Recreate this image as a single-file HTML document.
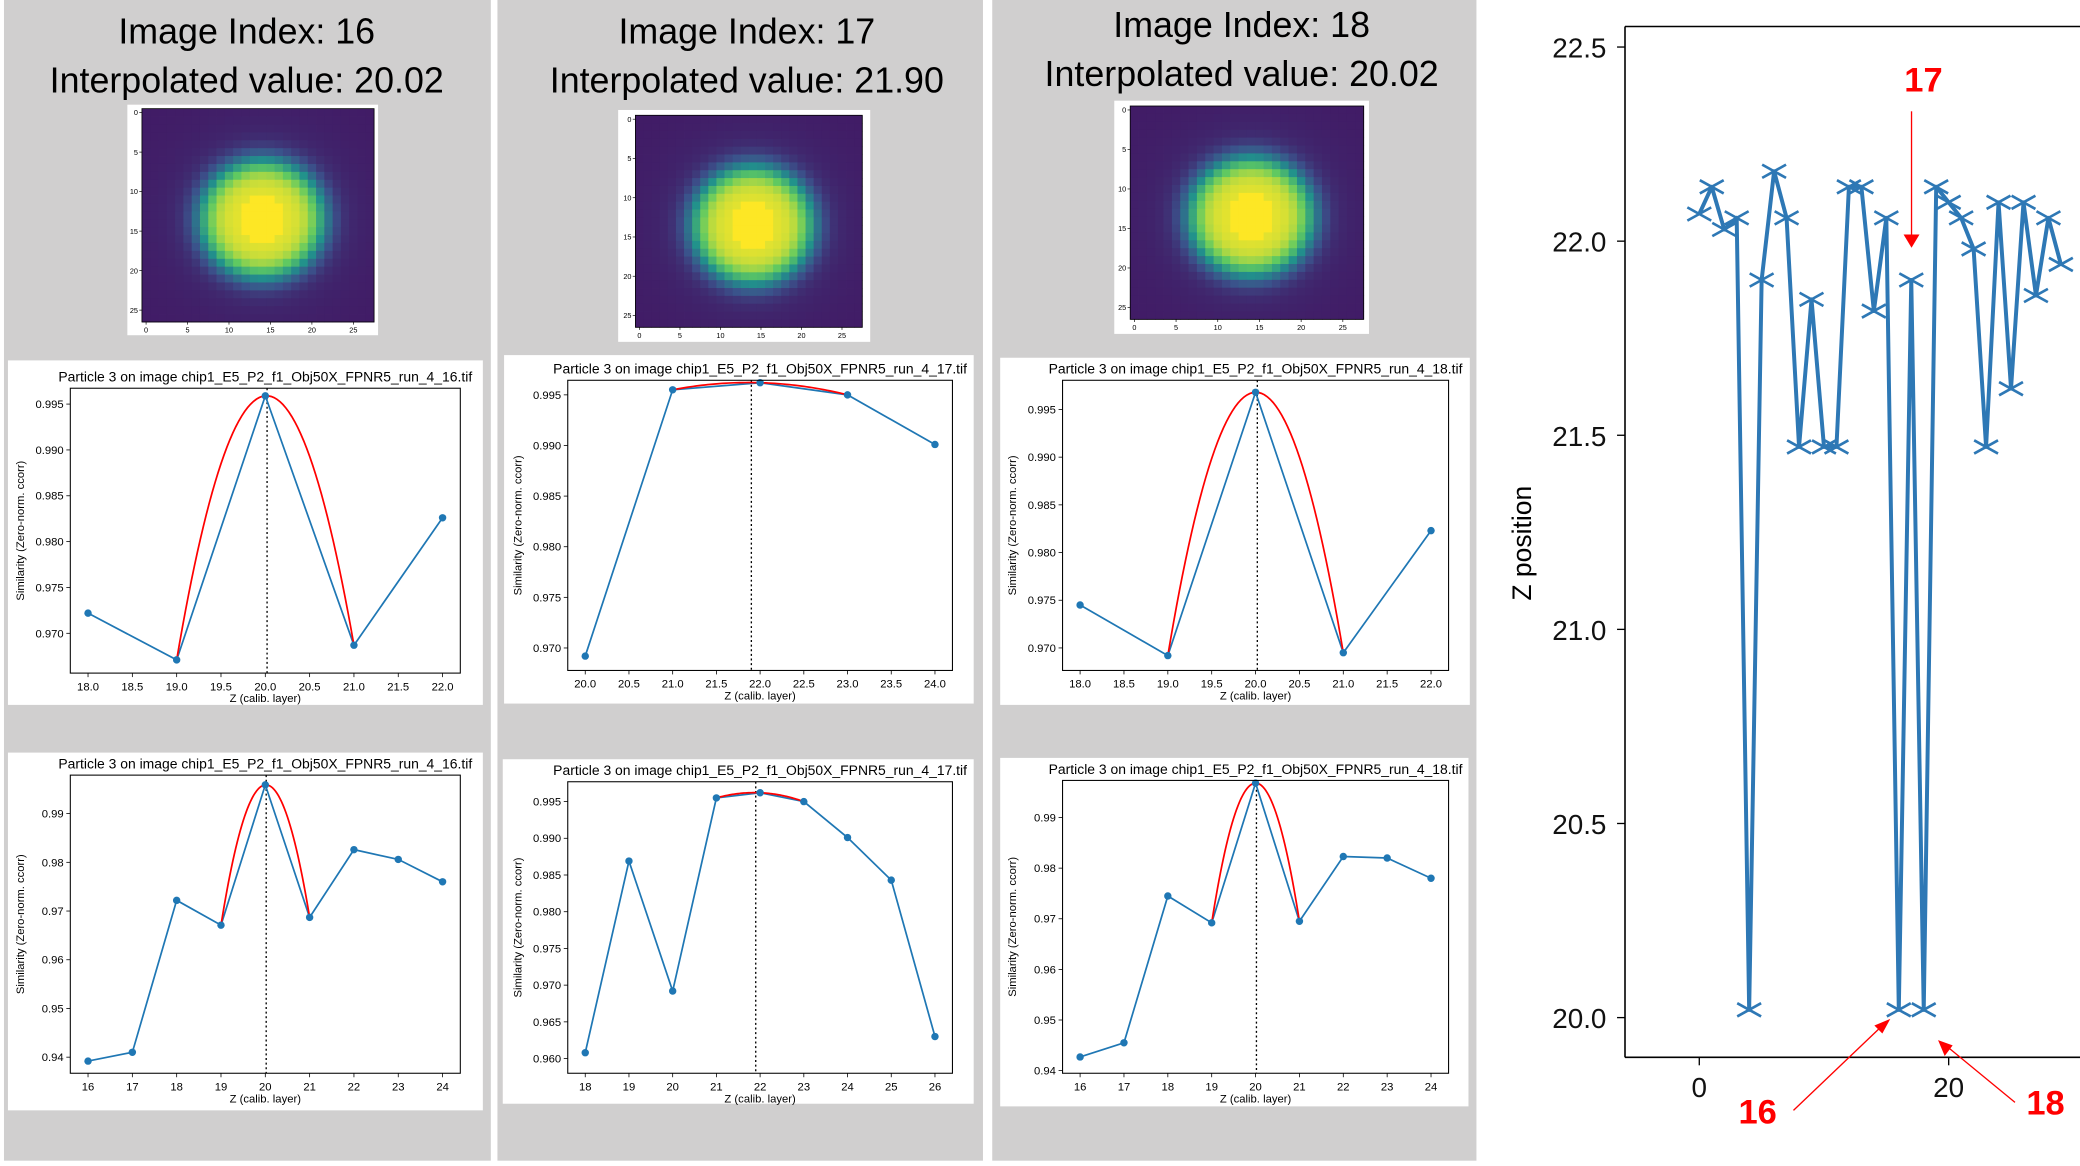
<!DOCTYPE html>
<html><head><meta charset="utf-8"><style>
html,body{margin:0;padding:0;background:#fff;}
svg{display:block;}
text{font-family:"Liberation Sans",sans-serif;}
</style></head><body>
<svg id="root" width="2080" height="1166" viewBox="0 0 1568 880" preserveAspectRatio="none" xmlns="http://www.w3.org/2000/svg">
<rect x="0" y="0" width="1568" height="880" fill="#fff"/>
<rect x="3" y="0" width="367" height="876" fill="#d0cfcf"/>
<rect x="375" y="0" width="366" height="876" fill="#d0cfcf"/>
<rect x="748" y="0" width="365" height="876" fill="#d0cfcf"/>
<g font-size="27" text-anchor="middle" fill="#000">
<text x="186" y="33">Image Index: 16</text><text x="186" y="70">Interpolated value: 20.02</text></g>
<g font-size="27" text-anchor="middle" fill="#000">
<text x="563" y="33">Image Index: 17</text><text x="563" y="70">Interpolated value: 21.90</text></g>
<g font-size="27" text-anchor="middle" fill="#000">
<text x="936" y="28">Image Index: 18</text><text x="936" y="65">Interpolated value: 20.02</text></g>
<g id="content"></g>
</svg>
<script>
// ---- Z position series (right chart) ----
const zIndex=[0,1,2,3,4,5,6,7,8,9,10,11,12,13,14,15,16,17,18,19,20,21,22,23,24,25,26,27,28,29];
const zValues=[22.07,22.14,22.03,22.06,20.02,21.90,22.18,22.06,21.47,21.85,21.47,21.47,22.14,22.14,21.82,22.06,20.02,21.90,20.02,22.14,22.10,22.06,21.98,21.47,22.10,21.62,22.10,21.86,22.06,21.94];
const zYTicks=[20.0,20.5,21.0,21.5,22.0,22.5];
const zXTicks=[0,20];
// ---- similarity charts ----
const p16aX=[18,19,20,21,22];
const p16aY=[0.9722,0.9671,0.9959,0.9687,0.9826];
const p16bX=[16,17,18,19,20,21,22,23,24];
const p16bY=[0.9392,0.9410,0.9722,0.9671,0.9959,0.9687,0.9826,0.9806,0.9760];
const p17aX=[20,21,22,23,24];
const p17aY=[0.9692,0.9955,0.9962,0.9950,0.9901];
const p17bX=[18,19,20,21,22,23,24,25,26];
const p17bY=[0.9608,0.9869,0.9692,0.9955,0.9962,0.9950,0.9901,0.9843,0.9630];
const p18aX=[18,19,20,21,22];
const p18aY=[0.9745,0.9692,0.9968,0.9695,0.9823];
const p18bX=[16,17,18,19,20,21,22,23,24];
const p18bY=[0.9427,0.9455,0.9745,0.9692,0.9968,0.9695,0.9823,0.9820,0.9780];
const ticksHalf=[18,18.5,19,19.5,20,20.5,21,21.5,22];
const ticksHalf17=[20,20.5,21,21.5,22,22.5,23,23.5,24];
const ticksInt16=[16,17,18,19,20,21,22,23,24];
const ticksInt18=[18,19,20,21,22,23,24,25,26];
const yT1=[0.970,0.975,0.980,0.985,0.990,0.995];
const yT2=[0.94,0.95,0.96,0.97,0.98,0.99];
const yT3=[0.960,0.965,0.970,0.975,0.980,0.985,0.990,0.995];
const peaks=[20.02,21.90,20.02];

const NS="http://www.w3.org/2000/svg";
const root=document.getElementById('content');
function el(tag,attrs,parent){const e=document.createElementNS(NS,tag);for(const k in attrs)e.setAttribute(k,attrs[k]);(parent||root).appendChild(e);return e;}
function txt(s,attrs,parent){const e=el('text',attrs,parent);e.textContent=s;return e;}

function viridis(t){
  const st=[[68,1,84],[59,82,139],[33,145,140],[94,201,98],[253,231,37]];
  t=Math.max(0,Math.min(1,t));const p=t*4,i=Math.min(3,Math.floor(p)),f=p-i;
  const c=st[i].map((v,k)=>Math.round(v+(st[i+1][k]-v)*f));return `rgb(${c})`;
}
function heatmap(bx,by,bw,bh,px,py,pw,ph,name){
  const g=el('g',{});
  
  
  el('rect',{x:bx,y:by,width:bw,height:bh,fill:'#fff'},g);
  const n=28,cw=pw/n,ch=ph/27;
  for(let r=0;r<27;r++)for(let c=0;c<n;c++){
    const d=Math.hypot(c-14,r-13.5);
    const v=0.08+0.07*Math.exp(-d*d/120)+0.82/(1+Math.exp((d-7.3)/0.9))+(d<3?0.05:0);
    el('rect',{x:px+c*cw,y:py+r*ch,width:cw+0.3,height:ch+0.3,fill:viridis(v)},g);
  }
  el('rect',{x:px,y:py,width:pw,height:ph,fill:'none',stroke:'#000','stroke-width':0.6},g);
  [0,5,10,15,20,25].forEach(t=>{
    const xx=px+(t+0.5)*cw, yy=py+(t+0.5)*ch;
    el('line',{x1:xx,y1:py+ph,x2:xx,y2:py+ph+2,stroke:'#000','stroke-width':0.5},g);
    txt(String(t),{x:xx,y:py+ph+8,'font-size':5.5,'text-anchor':'middle'},g);
    el('line',{x1:px-2,y1:yy,x2:px,y2:yy,stroke:'#000','stroke-width':0.5},g);
    txt(String(t),{x:px-3,y:yy+2,'font-size':5.5,'text-anchor':'end'},g);
  });
}
function simChart(o){
  const g=el('g',{});
  
  
  el('rect',{x:o.bx,y:o.by,width:o.bw,height:o.bh,fill:'#fff'},g);
  const [px,py,pw,ph]=o.plot;
  const sx=v=>px+(v-o.xlim[0])/(o.xlim[1]-o.xlim[0])*pw;
  const sy=v=>py+ph-(v-o.ylim[0])/(o.ylim[1]-o.ylim[0])*ph;
  txt(o.title,{x:px+pw/2,y:py-5,'font-size':10.5,'text-anchor':'middle'},g);
  o.xt.forEach(t=>{el('line',{x1:sx(t),y1:py+ph,x2:sx(t),y2:py+ph+3,stroke:'#000','stroke-width':0.6},g);
    txt(o.xdec?t.toFixed(1):String(t),{x:sx(t),y:py+ph+13,'font-size':8.5,'text-anchor':'middle'},g);});
  o.yt.forEach(t=>{el('line',{x1:px-3,y1:sy(t),x2:px,y2:sy(t),stroke:'#000','stroke-width':0.6},g);
    txt(t.toFixed(o.ydec),{x:px-5,y:sy(t)+3,'font-size':8.5,'text-anchor':'end'},g);});
  txt('Z (calib. layer)',{x:px+pw/2,y:py+ph+22,'font-size':8.5,'text-anchor':'middle'},g);
  const yl=txt('Similarity (Zero-norm. ccorr)',{x:0,y:0,'font-size':8.5,'text-anchor':'middle',transform:`translate(${px-35},${py+ph/2}) rotate(-90)`},g);
  // fit parabola through 3 points around max
  const im=o.y.indexOf(Math.max(...o.y));
  const x0=o.x[im-1],x2=o.x[im+1],y0=o.y[im-1],y1=o.y[im],y2=o.y[im+1];
  const xc=o.x[im];
  const a=(y0+y2-2*y1)/2, b=(y2-y0)/2;
  let d='';for(let i=0;i<=60;i++){const u=-1+2*i/60;const v=a*u*u+b*u+y1;d+=(i?'L':'M')+sx(xc+u)+','+sy(v);}
  el('line',{x1:sx(o.peak),y1:py,x2:sx(o.peak),y2:py+ph,stroke:'#000','stroke-width':1,'stroke-dasharray':'1.5,2'},g);
  const line=el('polyline',{points:o.x.map((v,i)=>sx(v)+','+sy(o.y[i])).join(' '),fill:'none',stroke:'#1f77b4','stroke-width':1.3},g);
  
  
  const fit=el('path',{d:d,fill:'none',stroke:'#ff0000','stroke-width':1.3},g);
  
  
  o.x.forEach((v,i)=>{const c=el('circle',{cx:sx(v),cy:sy(o.y[i]),r:2.8,fill:'#1f77b4'},g);
    
    });
  el('rect',{x:px,y:py,width:pw,height:ph,fill:'none',stroke:'#000','stroke-width':0.8},g);
}
heatmap(96,79,189,174,107,82,175,161,'heatmap-16');
heatmap(466,83,190,175,479,87,171,160,'heatmap-17');
heatmap(840,76,192,176,852,80,176,161,'heatmap-18');

simChart({name:'chart-16-a',bx:6,by:272,bw:358,bh:260,plot:[53,293,294,215],x:p16aX,y:p16aY,xlim:[17.8,22.2],ylim:[0.96566,0.99673],xt:ticksHalf,xdec:true,yt:yT1,ydec:3,peak:peaks[0],title:'Particle 3 on image chip1_E5_P2_f1_Obj50X_FPNR5_run_4_16.tif'});
simChart({name:'chart-16-b',bx:6,by:568,bw:358,bh:270,plot:[53,585,294,225],x:p16bX,y:p16bY,xlim:[15.6,24.4],ylim:[0.9367,0.9979],xt:ticksInt16,xdec:false,yt:yT2,ydec:2,peak:peaks[0],title:'Particle 3 on image chip1_E5_P2_f1_Obj50X_FPNR5_run_4_16.tif'});
simChart({name:'chart-17-a',bx:380,by:268,bw:354,bh:263,plot:[428,287,290,219],x:p17aX,y:p17aY,xlim:[19.8,24.2],ylim:[0.96778,0.99644],xt:ticksHalf17,xdec:true,yt:yT1,ydec:3,peak:peaks[1],title:'Particle 3 on image chip1_E5_P2_f1_Obj50X_FPNR5_run_4_17.tif'});
simChart({name:'chart-17-b',bx:379,by:573,bw:355,bh:260,plot:[428,590,290,220],x:p17bX,y:p17bY,xlim:[17.6,26.4],ylim:[0.958,0.9977],xt:ticksInt18,xdec:false,yt:yT3,ydec:3,peak:peaks[1],title:'Particle 3 on image chip1_E5_P2_f1_Obj50X_FPNR5_run_4_17.tif'});
simChart({name:'chart-18-a',bx:754,by:270,bw:354,bh:262,plot:[801,287,291,219],x:p18aX,y:p18aY,xlim:[17.8,22.2],ylim:[0.96764,0.99806],xt:ticksHalf,xdec:true,yt:yT1,ydec:3,peak:peaks[2],title:'Particle 3 on image chip1_E5_P2_f1_Obj50X_FPNR5_run_4_18.tif'});
simChart({name:'chart-18-b',bx:754,by:572,bw:353,bh:263,plot:[801,589,291,221],x:p18bX,y:p18bY,xlim:[15.6,24.4],ylim:[0.93948,0.99733],xt:ticksInt16,xdec:false,yt:yT2,ydec:2,peak:peaks[2],title:'Particle 3 on image chip1_E5_P2_f1_Obj50X_FPNR5_run_4_18.tif'});

// ---- right Z-position chart ----
(function(){
  const g=el('g',{});
  
  
  const L=1225,T=20,B=798;
  const sx=i=>1281+i*9.4;
  const sy=v=>768-(v-20)*(768-182)/2;
  el('line',{x1:L,y1:T,x2:L,y2:B,stroke:'#000','stroke-width':1.2},g);
  el('line',{x1:L,y1:B,x2:1568,y2:B,stroke:'#000','stroke-width':1.2},g);
  el('line',{x1:L,y1:T,x2:1568,y2:T,stroke:'#000','stroke-width':1.2},g);
  zYTicks.forEach(t=>{el('line',{x1:L-6,y1:sy(t),x2:L,y2:sy(t),stroke:'#000','stroke-width':1},g);
    txt(t.toFixed(1),{x:L-14,y:sy(t)+8,'font-size':21,'text-anchor':'end',fill:'#111'},g);});
  zXTicks.forEach(t=>{el('line',{x1:sx(t),y1:B,x2:sx(t),y2:B+6,stroke:'#000','stroke-width':1},g);
    txt(String(t),{x:sx(t),y:B+30,'font-size':21,'text-anchor':'middle',fill:'#111'},g);});
  txt('Z position',{x:0,y:0,'font-size':20,'text-anchor':'middle',transform:'translate(1154,410) rotate(-90)'},g);
  const cl=el('clipPath',{id:'zc'},g);el('rect',{x:L,y:T,width:1568-L,height:B-T},cl);
  const inner=el('g',{'clip-path':'url(#zc)'},g);
  const pl=el('polyline',{points:zIndex.map((v,i)=>sx(v)+','+sy(zValues[i])).join(' '),fill:'none',stroke:'#2e78b5','stroke-width':3,'stroke-linejoin':'round'},inner);
  
  
  zIndex.forEach((v,i)=>{const x=sx(v),y=sy(zValues[i]);
    const m=el('path',{d:`M${x-9},${y-5}L${x+9},${y+5}M${x-9},${y+5}L${x+9},${y-5}`,stroke:'#2e78b5','stroke-width':2,fill:'none'},inner);
    
    });
  const a=el('g',{},g);
  
  
  txt('17',{x:1450,y:69,'font-size':26,'font-weight':'bold','text-anchor':'middle',fill:'#f00'},a);
  el('line',{x1:1441,y1:84,x2:1441,y2:178,stroke:'#f00','stroke-width':1},a);
  el('path',{d:'M1435,177L1447,177L1441,187Z',fill:'#f00'},a);
  txt('16',{x:1325,y:848,'font-size':26,'font-weight':'bold','text-anchor':'middle',fill:'#f00'},a);
  el('line',{x1:1352,y1:838,x2:1418,y2:775,stroke:'#f00','stroke-width':1},a);
  el('path',{d:'M1425,769L1413,774L1419,780Z',fill:'#f00'},a);
  txt('18',{x:1542,y:841,'font-size':26,'font-weight':'bold','text-anchor':'middle',fill:'#f00'},a);
  el('line',{x1:1519,y1:832,x2:1468,y2:790,stroke:'#f00','stroke-width':1},a);
  el('path',{d:'M1461,785L1466,797L1472,789Z',fill:'#f00'},a);
})();
</script>
</body></html>
